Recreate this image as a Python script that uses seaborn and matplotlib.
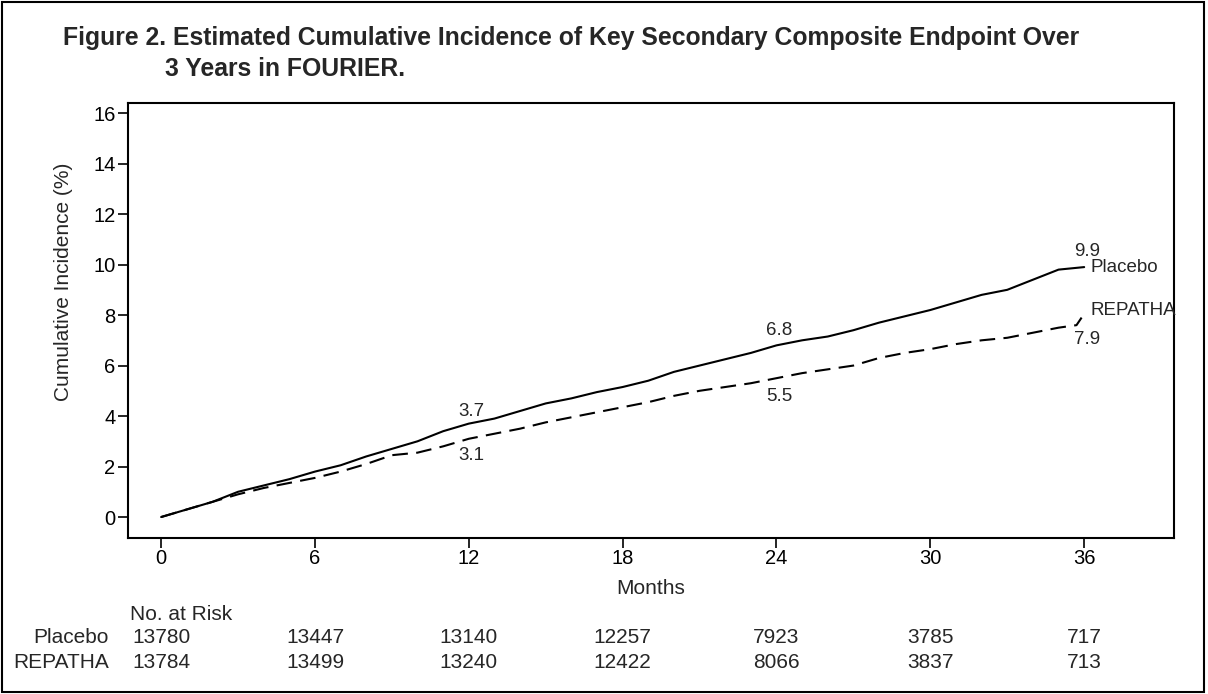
import numpy as np
import pandas as pd
import matplotlib
matplotlib.use('Agg')
import matplotlib.pyplot as plt
import matplotlib.transforms as mtransforms
from matplotlib.patches import Rectangle
import seaborn as sns

# monthly estimates
months = list(range(0, 37))
placebo = [0.0, 0.3, 0.6, 1.0, 1.25, 1.5, 1.8, 2.05, 2.4, 2.7, 3.0, 3.4, 3.7,
           3.9, 4.2, 4.5, 4.7, 4.95, 5.15, 5.4, 5.75, 6.0, 6.25, 6.5, 6.8,
           7.0, 7.15, 7.4, 7.7, 7.95, 8.2, 8.5, 8.8, 9.0, 9.4, 9.8, 9.9]
repatha_months = months[:36] + [35.7, 35.9]
repatha = [0.0, 0.3, 0.6, 0.9, 1.15, 1.35, 1.55, 1.8, 2.1, 2.45, 2.55, 2.8, 3.1,
           3.3, 3.5, 3.75, 3.95, 4.15, 4.35, 4.55, 4.8, 5.0, 5.15, 5.3, 5.5,
           5.7, 5.85, 6.0, 6.3, 6.5, 6.65, 6.85, 7.0, 7.1, 7.3, 7.5, 7.6, 7.9]

risk_months = [0, 6, 12, 18, 24, 30, 36]
risk_placebo = [13780, 13447, 13140, 12257, 7923, 3785, 717]
risk_repatha = [13784, 13499, 13240, 12422, 8066, 3837, 713]

sns.set_style('ticks')
plt.rcParams['font.family'] = ['Liberation Sans', 'DejaVu Sans']

fig = plt.figure(figsize=(12.08, 6.94), dpi=100)
ax = fig.add_axes([0.106, 0.2248, 0.866, 0.6268])

sns.lineplot(x=months, y=placebo, ax=ax, color='black', linewidth=1.5)
sns.lineplot(x=repatha_months, y=repatha, ax=ax, color='black', linewidth=1.5,
             linestyle=(0, (7.5, 4)))

ax.set_xlim(-1.29, 39.51)
ax.set_ylim(-0.83, 16.4)
ax.set_xticks(risk_months)
ax.set_yticks(range(0, 17, 2))
ax.tick_params(labelsize=14.5, length=7, width=1.2, colors='black')
ax.tick_params(axis='x', pad=1)
ax.tick_params(axis='y', pad=2)
for s in ax.spines.values():
    s.set_linewidth(1.5)
    s.set_color('black')
ax.set_xlabel('Months', fontsize=15, labelpad=8)
ax.set_ylabel('Cumulative Incidence (%)', fontsize=15)
ax.yaxis.set_label_coords(-0.0526, 0.59)

# labels on the curves
ax.text(12.1, 4.0, '3.7', fontsize=13.5, ha='center')
ax.text(12.1, 2.25, '3.1', fontsize=13.5, ha='center')
ax.text(24.1, 7.2, '6.8', fontsize=13.5, ha='center')
ax.text(24.1, 4.6, '5.5', fontsize=13.5, ha='center')
ax.text(36.1, 10.35, '9.9', fontsize=13.5, ha='center')
ax.text(36.25, 9.9, 'Placebo', fontsize=13.5, va='center')
ax.text(36.25, 8.2, 'REPATHA', fontsize=13.5, va='center')
ax.text(36.1, 6.85, '7.9', fontsize=13.5, ha='center')

# title
fig.text(0.052, 0.945, 'Figure 2. Estimated Cumulative Incidence of Key Secondary Composite Endpoint Over',
         fontsize=17.8, fontweight='bold', va='center')
fig.text(0.137, 0.900, '3 Years in FOURIER.', fontsize=17.8, fontweight='bold', va='center')

# number at risk table
trans = mtransforms.blended_transform_factory(ax.transData, fig.transFigure)
fig.text(0.108, 0.114, 'No. at Risk', fontsize=15, va='center')
fig.text(0.090, 0.082, 'Placebo', fontsize=15, va='center', ha='right')
fig.text(0.090, 0.046, 'REPATHA', fontsize=15, va='center', ha='right')
for m, p, r in zip(risk_months, risk_placebo, risk_repatha):
    ax.text(m, 0.082, str(p), transform=trans, fontsize=15, ha='center', va='center')
    ax.text(m, 0.046, str(r), transform=trans, fontsize=15, ha='center', va='center')

fig.patches.append(Rectangle((0.002, 0.003), 0.995, 0.994, transform=fig.transFigure,
                             fill=False, edgecolor='black', linewidth=1.5))

fig.savefig('out.png', dpi=100)
